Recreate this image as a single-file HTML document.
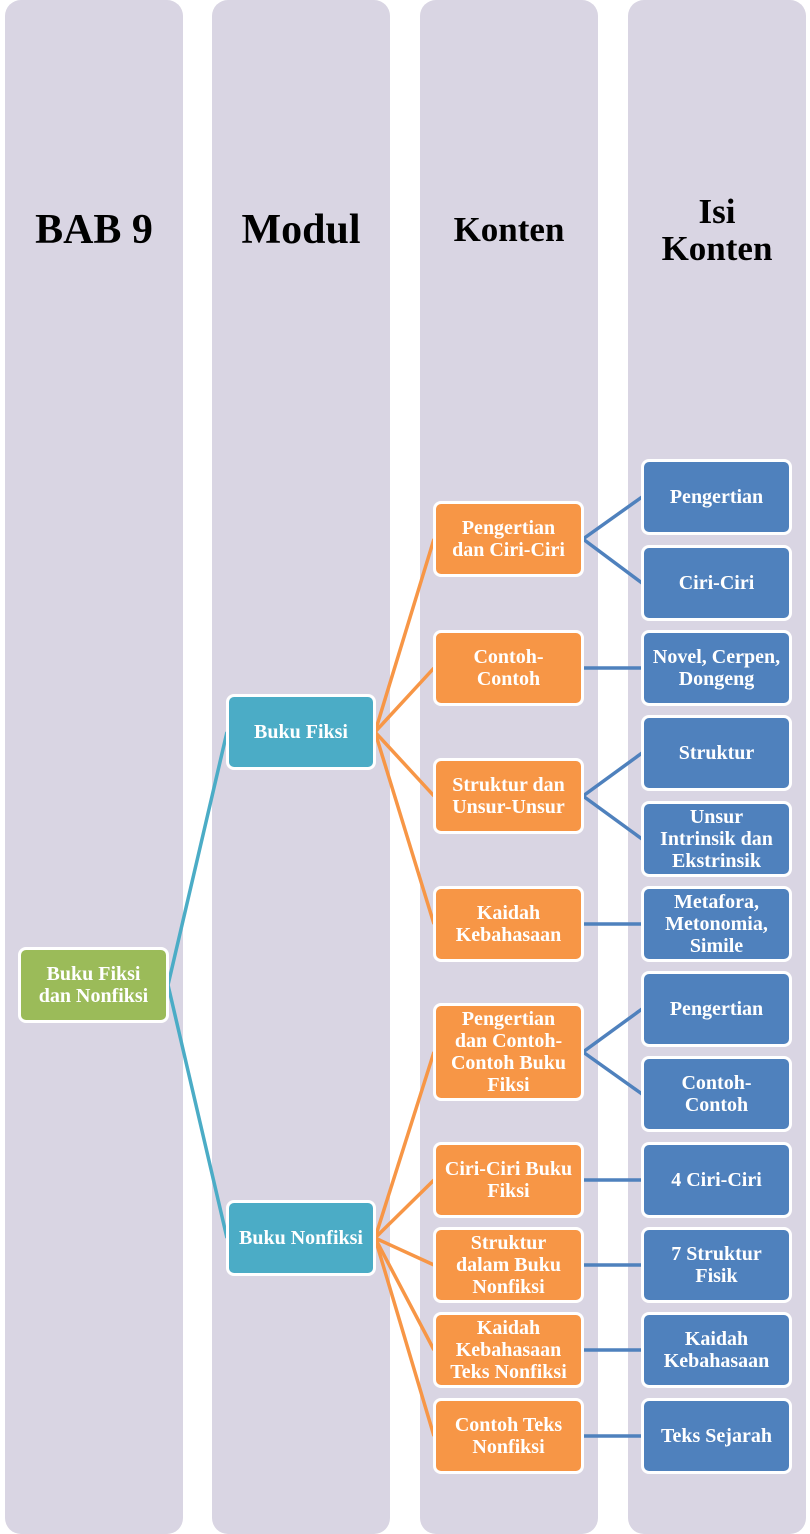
<!DOCTYPE html>
<html><head><meta charset="utf-8"><style>
body{margin:0;width:810px;height:1534px;background:#fff;position:relative;overflow:hidden;font-family:"Liberation Serif",serif}
.col{position:absolute;top:0;height:1534px;width:178px;background:#d9d5e3;border-radius:16px}
.h{position:absolute;width:178px;text-align:center;font-weight:bold;color:#000}
.b{position:absolute;box-sizing:border-box;border:3px solid #fff;border-radius:8px;color:#fff;font-weight:bold;font-size:20px;line-height:22px;display:flex;align-items:center;justify-content:center;text-align:center}
.g{background:#9bbb59}.t{background:#4bacc6}.o{background:#f79646}.u{background:#4f81bd}
svg{position:absolute;left:0;top:0}
</style></head><body>
<div class="col" style="left:5px"></div>
<div class="col" style="left:212px"></div>
<div class="col" style="left:420px"></div>
<div class="col" style="left:628px"></div>
<div class="h" style="left:5px;top:205px;font-size:42px;line-height:50px">BAB 9</div>
<div class="h" style="left:212px;top:205px;font-size:42px;line-height:50px">Modul</div>
<div class="h" style="left:420px;top:209px;font-size:35px;line-height:42px">Konten</div>
<div class="h" style="left:628px;top:193px;font-size:35px;line-height:37px">Isi<br>Konten</div>
<svg width="810" height="1534">
<g stroke="#4bacc6" stroke-width="3.5"><line x1="168" y1="985" x2="227" y2="732"/><line x1="168" y1="985" x2="227" y2="1238"/></g>
<g stroke="#f79646" stroke-width="3.5">
<line x1="375" y1="732" x2="434" y2="539"/><line x1="375" y1="732" x2="434" y2="668"/><line x1="375" y1="732" x2="434" y2="796"/><line x1="375" y1="732" x2="434" y2="924"/>
<line x1="375" y1="1238" x2="434" y2="1052"/><line x1="375" y1="1238" x2="434" y2="1180"/><line x1="375" y1="1238" x2="434" y2="1265"/><line x1="375" y1="1238" x2="434" y2="1350"/><line x1="375" y1="1238" x2="434" y2="1436"/>
</g>
<g stroke="#4f81bd" stroke-width="3.5">
<line x1="583" y1="539" x2="642" y2="497"/><line x1="583" y1="539" x2="642" y2="583"/>
<line x1="583" y1="668" x2="642" y2="668"/>
<line x1="583" y1="796" x2="642" y2="753"/><line x1="583" y1="796" x2="642" y2="839"/>
<line x1="583" y1="924" x2="642" y2="924"/>
<line x1="583" y1="1052" x2="642" y2="1009"/><line x1="583" y1="1052" x2="642" y2="1094"/>
<line x1="583" y1="1180" x2="642" y2="1180"/><line x1="583" y1="1265" x2="642" y2="1265"/><line x1="583" y1="1350" x2="642" y2="1350"/><line x1="583" y1="1436" x2="642" y2="1436"/>
</g></svg>
<div class="b g" style="left:18px;top:947px;width:151px;height:76px">Buku Fiksi<br>dan Nonfiksi</div>
<div class="b t" style="left:226px;top:694px;width:150px;height:76px">Buku Fiksi</div>
<div class="b t" style="left:226px;top:1200px;width:150px;height:76px">Buku Nonfiksi</div>
<div class="b o" style="left:433px;top:501px;width:151px;height:76px">Pengertian<br>dan Ciri-Ciri</div>
<div class="b o" style="left:433px;top:630px;width:151px;height:76px">Contoh-<br>Contoh</div>
<div class="b o" style="left:433px;top:758px;width:151px;height:76px">Struktur dan<br>Unsur-Unsur</div>
<div class="b o" style="left:433px;top:886px;width:151px;height:76px">Kaidah<br>Kebahasaan</div>
<div class="b o" style="left:433px;top:1003px;width:151px;height:98px">Pengertian<br>dan Contoh-<br>Contoh Buku<br>Fiksi</div>
<div class="b o" style="left:433px;top:1142px;width:151px;height:76px">Ciri-Ciri Buku<br>Fiksi</div>
<div class="b o" style="left:433px;top:1227px;width:151px;height:76px">Struktur<br>dalam Buku<br>Nonfiksi</div>
<div class="b o" style="left:433px;top:1312px;width:151px;height:76px">Kaidah<br>Kebahasaan<br>Teks Nonfiksi</div>
<div class="b o" style="left:433px;top:1398px;width:151px;height:76px">Contoh Teks<br>Nonfiksi</div>
<div class="b u" style="left:641px;top:459px;width:151px;height:76px">Pengertian</div>
<div class="b u" style="left:641px;top:545px;width:151px;height:76px">Ciri-Ciri</div>
<div class="b u" style="left:641px;top:630px;width:151px;height:76px">Novel, Cerpen,<br>Dongeng</div>
<div class="b u" style="left:641px;top:715px;width:151px;height:76px">Struktur</div>
<div class="b u" style="left:641px;top:801px;width:151px;height:76px">Unsur<br>Intrinsik dan<br>Ekstrinsik</div>
<div class="b u" style="left:641px;top:886px;width:151px;height:76px">Metafora,<br>Metonomia,<br>Simile</div>
<div class="b u" style="left:641px;top:971px;width:151px;height:76px">Pengertian</div>
<div class="b u" style="left:641px;top:1056px;width:151px;height:76px">Contoh-<br>Contoh</div>
<div class="b u" style="left:641px;top:1142px;width:151px;height:76px">4 Ciri-Ciri</div>
<div class="b u" style="left:641px;top:1227px;width:151px;height:76px">7 Struktur<br>Fisik</div>
<div class="b u" style="left:641px;top:1312px;width:151px;height:76px">Kaidah<br>Kebahasaan</div>
<div class="b u" style="left:641px;top:1398px;width:151px;height:76px">Teks Sejarah</div>
</body></html>
